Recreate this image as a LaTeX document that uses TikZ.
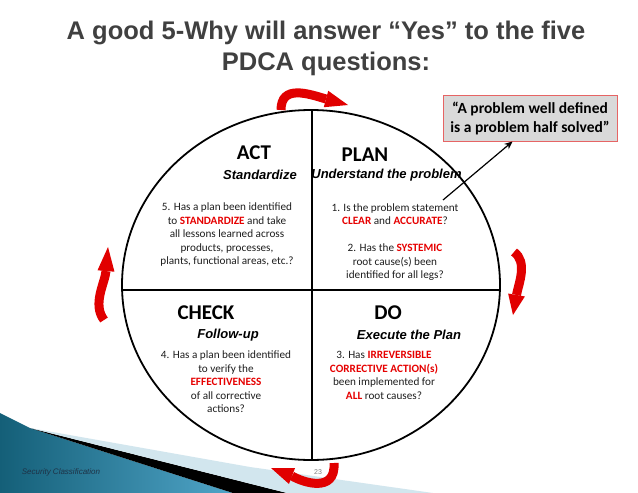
\documentclass[tikz,border=0pt]{standalone}
\usepackage{fontspec}
\setmainfont{Carlito}
\newfontfamily\arialf{Liberation Sans}
\usetikzlibrary{arrows.meta,calc}
\definecolor{kred}{RGB}{230,0,0}
\definecolor{titlegray}{RGB}{64,64,64}
\definecolor{bodyk}{RGB}{30,30,30}
\definecolor{arrred}{RGB}{225,0,0}
\definecolor{qfill}{RGB}{217,217,217}
\definecolor{qedge}{RGB}{230,100,100}
\definecolor{tealdark}{RGB}{20,95,120}
\definecolor{teallight}{RGB}{80,165,200}
\definecolor{paleblue}{RGB}{210,230,238}
\definecolor{secblue}{RGB}{30,50,70}
\newcommand{\kw}[1]{\textbf{\textcolor{kred}{#1}}}
% \cycarrow{start}{c1}{c2}{base}{tip}
\newcommand{\cycarrow}[5]{%
  \draw[cycband] #1 .. controls #2 and #3 .. #4;
  \coordinate (hb) at #4; \coordinate (ht) at #5;
  \fill[arrred] ($(hb)!8.5pt!90:(ht)$) -- (ht) -- ($(hb)!8.5pt!-90:(ht)$) -- cycle;
}
\begin{document}
\begin{tikzpicture}[x=1pt,y=-1pt,
  phase/.style={font=\fontsize{21}{24}\selectfont\bfseries, inner sep=0, text=black},
  sub/.style={font=\arialf\fontsize{13}{15}\selectfont\bfseries\itshape, inner sep=0},
  body/.style={font=\fontsize{11.2}{13.5}\selectfont, align=center, inner sep=0, text=bodyk},
  cycband/.style={line width=9pt, draw=arrred},
  titlestyle/.style={font=\arialf\fontsize{25.5}{30}\selectfont\bfseries, text=titlegray, anchor=base, inner sep=0},
]
\useasboundingbox (0,0) rectangle (638,493);
\fill[white] (0,0) rectangle (638,493);

% bottom-left decoration
\shade[left color=tealdark, right color=teallight] (0,413) -- (30,428) -- (233,493) -- (0,493) -- cycle;
\fill[black] (30,428) -- (287,493) -- (233,493) -- cycle;
\fill[paleblue] (30,428) -- (250,467) -- (433,493) -- (287,493) -- cycle;
\node[font=\arialf\fontsize{8}{9}\selectfont\itshape, text=secblue, inner sep=0] (sec) at (61,472) {Security Classification};

% title
\node[titlestyle] (t1) at (326,39) {A good 5-Why will answer “Yes” to the five};
\node[titlestyle] (t2) at (326,70) {PDCA questions:};

% circle and quadrants
\draw[line width=1.8pt] (311,285) ellipse [x radius=189, y radius=175];
\draw[line width=1.8pt] (312,110) -- (312,460);
\draw[line width=1.8pt] (122,290) -- (500,290);

% cycle arrows
\cycarrow{(281,110)}{(281,84)}{(309,94)}{(326,99)}{(348,105)}
\cycarrow{(334,463)}{(336,494)}{(302,482)}{(292,476)}{(271,468)}
\cycarrow{(104,320)}{(92,304)}{(105,283)}{(106,271)}{(108,247)}
\cycarrow{(514,252)}{(528,262)}{(518.5,284)}{(516.5,295)}{(513,315)}
\node[font=\arialf\fontsize{7}{8}\selectfont, text=gray, inner sep=0] (pg) at (318,472) {23};

% headings
\node[phase] (act) at (254,153) {ACT};
\node[phase] (plan) at (365,155) {PLAN};
\node[phase] (check) at (206,313) {CHECK};
\node[phase] (do) at (388,313) {DO};
\node[sub, anchor=east] (std) at (297,175) {Standardize};
\node[sub] (und) at (386.5,175) {Understand the problem};
\node[sub] (fol) at (228,335) {Follow-up};
\node[sub] (exe) at (409,335) {Execute the Plan};

% body texts
\node[body] (actb) at (227,235) {5. Has a plan been identified\\ to \kw{STANDARDIZE} and take\\ all lessons learned across\\ products, processes,\\ plants, functional areas, etc.?};
\node[body] (planb) at (395,242) {1. Is the problem statement\\ \kw{CLEAR} and \kw{ACCURATE}?\\[13.5pt] 2. Has the \kw{SYSTEMIC}\\ root cause(s) been\\ identified for all legs?};
\node[body] (checkb) at (226,382) {4. Has a plan been identified\\ to verify the\\ \kw{EFFECTIVENESS}\\ of all corrective\\ actions?};
\node[body] (dob) at (384,375.5) {3. Has \kw{IRREVERSIBLE}\\ \kw{CORRECTIVE ACTION(s)}\\ been implemented for\\ \kw{ALL} root causes?};

% quote box
\node[draw=qedge, fill=qfill, line width=1pt, minimum width=174, minimum height=46, inner sep=0, align=center, font=\fontsize{15.5}{19}\selectfont\bfseries] (quote) at (530,118) {“A problem well defined\\is a problem half solved”};
\coordinate (qstart) at (443,200);
\draw[line width=1.2pt, -{Stealth[length=8pt,width=7pt]}] (qstart) -- ($(quote.south west)!0.4!(quote.south east)$);
\end{tikzpicture}
\end{document}
